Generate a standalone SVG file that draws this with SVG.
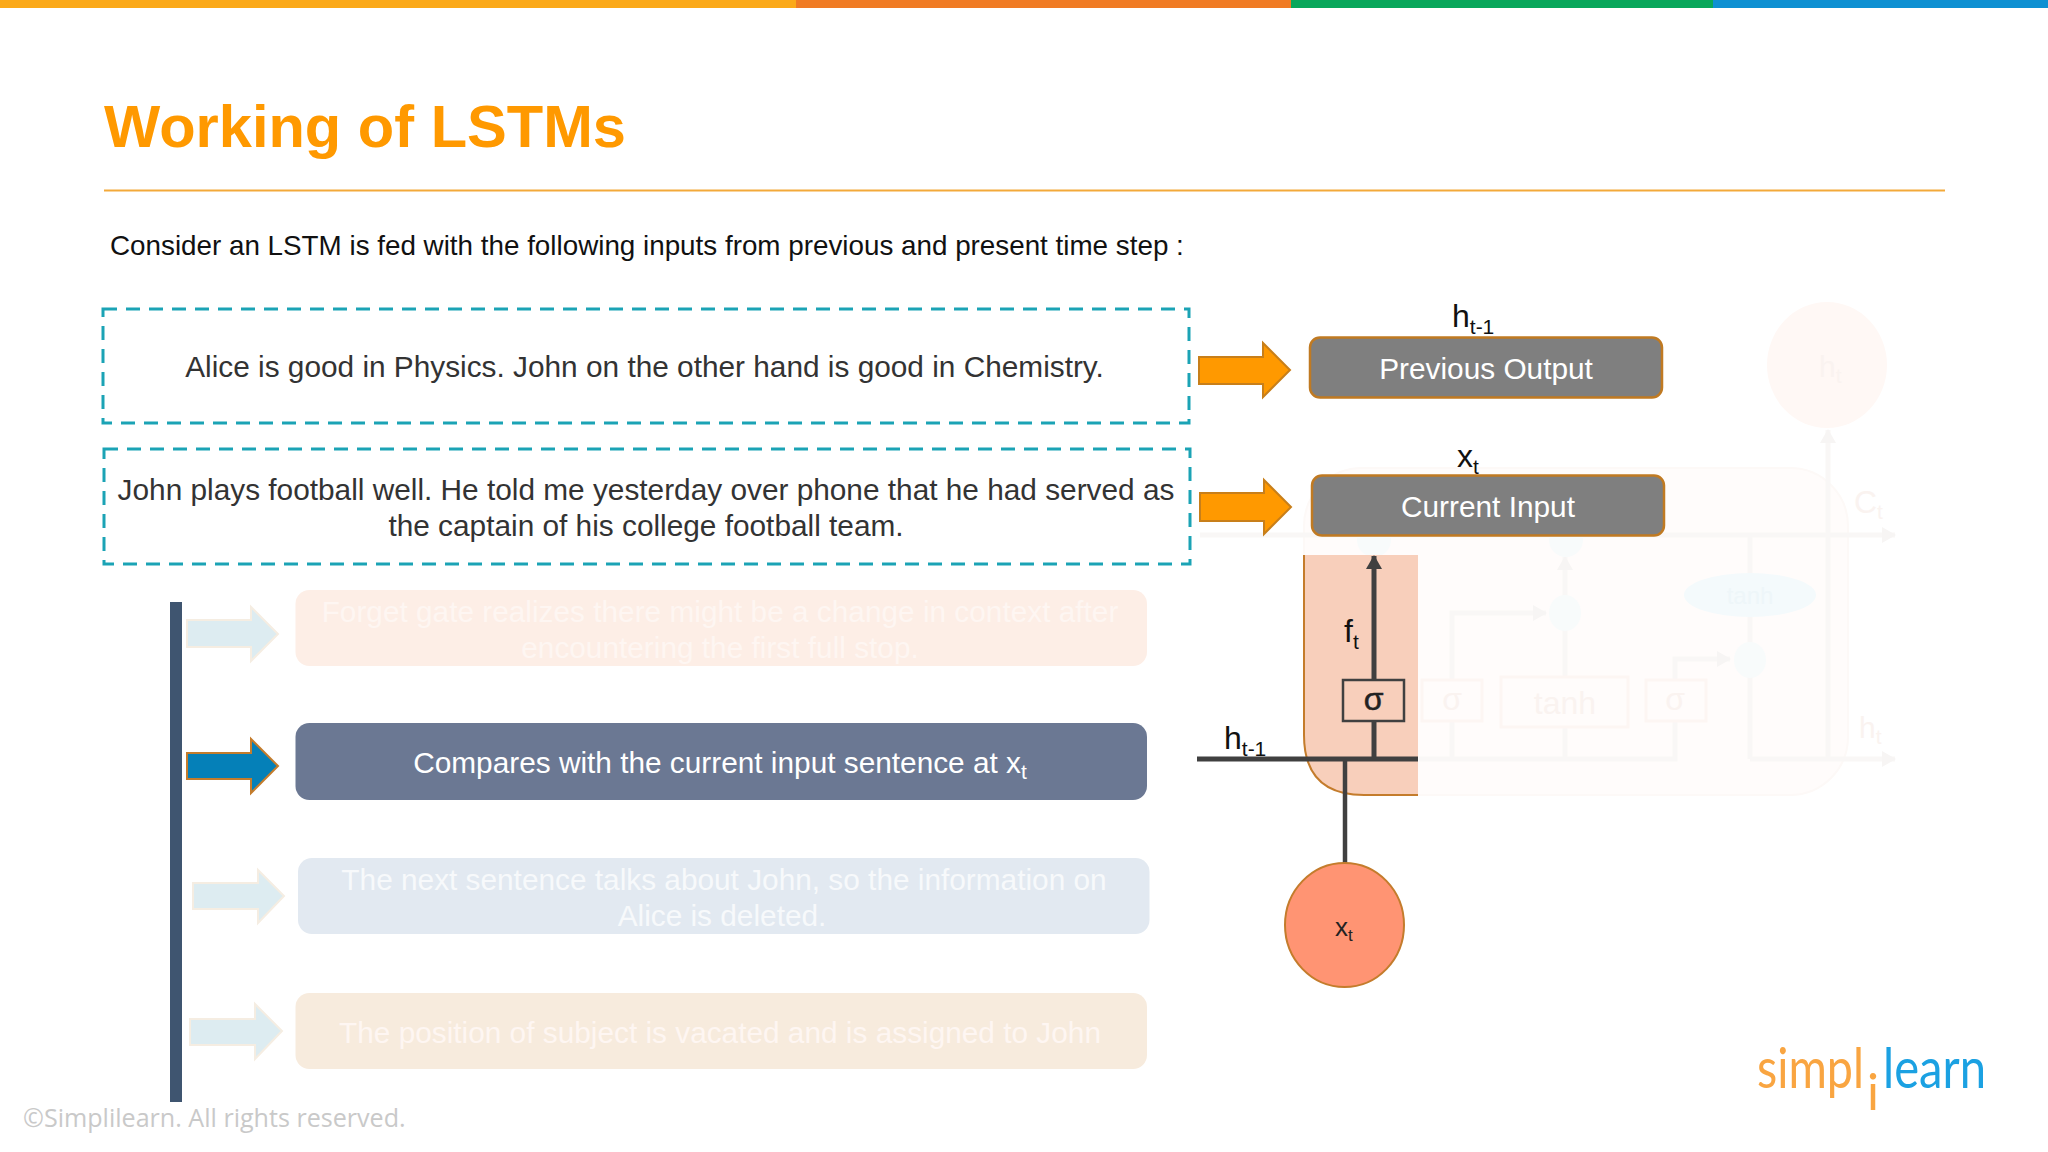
<svg xmlns="http://www.w3.org/2000/svg" width="2048" height="1152" viewBox="0 0 2048 1152">
<defs>
<style>
text{font-family:"Liberation Sans",Arial,sans-serif}
.ctr{text-anchor:middle}
.w{fill:#fff;font-size:29.800px}
.k{fill:#333;font-size:29.800px}
.lab{fill:#111;font-size:32px}
.sub{font-size:21px}
.dash{fill:none;stroke:#1BA3B5;stroke-width:3;stroke-dasharray:14 9}
.grey{fill:#7f7f7f;stroke:#C07A22;stroke-width:2.500}
.orange{fill:#FF9900;stroke:#C87F1A;stroke-width:2}
.faintArrow{fill:#DDECF1;stroke:#F5EDE2;stroke-width:2}
.gl{fill:none;stroke:#F9F7F6;stroke-width:5}
.gb{fill:none;stroke:#FDF6F3;stroke-width:3}
.gc{fill:#F8FBFB}
.gt{fill:#FAF3F0}
.dk{fill:none;stroke:#404040;stroke-width:5}
.ghostText{fill:#FEF6F2;font-size:29.800px}
.logo{font-family:Lato,sans-serif;font-size:56px;font-weight:400}
</style>
<marker id="dkHead" markerUnits="userSpaceOnUse" markerWidth="18" markerHeight="18" refX="13" refY="8" orient="auto"><path d="M0,0L14,8L0,16Z" fill="#404040"/></marker>
<marker id="gHead" markerUnits="userSpaceOnUse" markerWidth="18" markerHeight="18" refX="13" refY="8" orient="auto"><path d="M0,0L14,8L0,16Z" fill="#F7F5F4"/></marker>
</defs>
<rect width="2048" height="1152" fill="#fff"/>
<g id="topbar">
<rect x="0" y="0" width="796" height="8" fill="#FBA919"/>
<rect x="796" y="0" width="495" height="8" fill="#F07B24"/>
<rect x="1291" y="0" width="422" height="8" fill="#09A75B"/>
<rect x="1713" y="0" width="335" height="8" fill="#0E90D2"/>
</g>
<g id="header">
<text x="104" y="147" font-size="59.600" font-weight="bold" fill="#FF9900">Working of LSTMs</text>
<rect x="104" y="189.500" width="1841" height="2" fill="#F3A93A"/>
<text x="110" y="255" font-size="27.800" fill="#111">Consider an LSTM is fed with the following inputs from previous and present time step :</text>
</g>
<g id="ghost-lstm">
<rect x="1304" y="468" width="544" height="327" rx="58" fill="#FFFCFB" stroke="#FDF9F7" stroke-width="2"/>
<ellipse cx="1827" cy="365" rx="60" ry="63" fill="#FFF8F5"/>
<text x="1819" y="377" font-size="30" class="gt">h<tspan class="sub" dy="6">t</tspan></text>
<path class="gl" d="M1200,535H1895" marker-end="url(#gHead)"/>
<path class="gl" d="M1419,759H1675V721M1675,680V659H1730" marker-end="url(#gHead)"/>
<path class="gl" d="M1750,759H1895" marker-end="url(#gHead)"/>
<path class="gl" d="M1452,759V721M1452,680V613H1546" marker-end="url(#gHead)"/>
<path class="gl" d="M1565,759V727M1565,677V630M1565,595V557" marker-end="url(#gHead)"/>
<path class="gl" d="M1750,759V677M1750,642V616M1750,573V535"/>
<path class="gl" d="M1828,759V430" marker-end="url(#gHead)"/>
<circle class="gc" cx="1374" cy="540" r="17"/>
<circle class="gc" cx="1566" cy="540" r="17"/>
<ellipse class="gc" cx="1565" cy="613" rx="16" ry="18"/>
<ellipse class="gc" cx="1750" cy="660" rx="16" ry="18"/>
<ellipse cx="1750" cy="595" rx="66" ry="22" fill="#F4FAFC"/>
<text x="1750" y="604" font-size="24" class="ctr" fill="#EEF6F9">tanh</text>
<rect class="gb" x="1422" y="680" width="60" height="41"/>
<rect class="gb" x="1501" y="677" width="127" height="50"/>
<rect class="gb" x="1646" y="680" width="60" height="41"/>
<text x="1452" y="710" font-size="32" class="ctr gt">σ</text>
<text x="1565" y="714" font-size="32" class="ctr gt">tanh</text>
<text x="1675" y="710" font-size="32" class="ctr gt">σ</text>
<text x="1854" y="513" font-size="32" class="gt">C<tspan class="sub" dy="6">t</tspan></text>
<text x="1859" y="738" font-size="30" class="gt">h<tspan class="sub" dy="6">t</tspan></text>
</g>
<g id="box-sentence-1">
<rect class="dash" x="103" y="309" width="1086" height="114"/>
<text class="k ctr" x="644.500" y="377">Alice is good in Physics. John on the other hand is good in Chemistry.</text>
</g>
<g id="box-sentence-2">
<rect class="dash" x="104" y="449" width="1086" height="115"/>
<text class="k ctr" x="646" y="500">John plays football well. He told me yesterday over phone that he had served as</text>
<text class="k ctr" x="646" y="536">the captain of his college football team.</text>
</g>
<g id="arrow-input-1"><path class="orange" d="M1199,357H1263V343L1290,370L1263,397V384H1199Z"/></g>
<g id="arrow-input-2"><path class="orange" d="M1200,493H1264V480L1291,507L1264,534V521H1200Z"/></g>
<g id="node-previous-output">
<rect class="grey" x="1310" y="337.500" width="352" height="60" rx="10"/>
<text class="w ctr" x="1486" y="379">Previous Output</text>
<text class="lab" x="1452" y="327">h<tspan class="sub" dy="7">t-1</tspan></text>
</g>
<g id="node-current-input">
<text class="lab" x="1457" y="467">x<tspan class="sub" dy="7">t</tspan></text>
<rect class="grey" x="1312" y="475.500" width="352" height="60" rx="10"/>
<text class="w ctr" x="1488" y="517">Current Input</text>
</g>
<g id="forget-gate">
<path d="M1304,555V735Q1304,795 1364,795H1418V555Z" fill="#F8CFBB"/>
<path d="M1304,555V735Q1304,795 1364,795H1418" fill="none" stroke="#C47C2C" stroke-width="2"/>
<rect x="1343" y="680" width="61" height="41" fill="none" stroke="#404040" stroke-width="2.500"/>
<text x="1373.500" y="710" font-size="32" class="ctr" fill="#222" stroke="#222" stroke-width="0.500">σ</text>
<text class="lab" x="1344" y="642">f<tspan class="sub" dy="7">t</tspan></text>
</g>
<g id="connectors">
<path class="dk" d="M1197,759H1418"/>
<path class="dk" d="M1374,759V721"/>
<path class="dk" d="M1374,680V556" marker-end="url(#dkHead)"/>
<path class="dk" d="M1345,759V865" style="stroke-width:4.500"/>
</g>
<g id="label-hidden"><text class="lab" x="1224" y="749">h<tspan class="sub" dy="7">t-1</tspan></text></g>
<g id="node-xt">
<ellipse cx="1344.500" cy="925" rx="59.500" ry="62" fill="#FF9473" stroke="#C47C2C" stroke-width="2"/>
<text x="1335" y="936" font-size="26" fill="#222">x<tspan font-size="17" dy="5">t</tspan></text>
</g>
<g id="timeline"><rect x="170" y="602" width="12" height="500" fill="#3F5570"/></g>
<g id="step-1">
<path class="faintArrow" d="M187,620H251V607L278,634L251,661V647H187Z"/>
<rect x="295.500" y="590" width="851.500" height="76" rx="14" fill="#FDEEE6"/>
<text class="ghostText ctr" x="720" y="622">Forget gate realizes there might be a change in context after</text>
<text class="ghostText ctr" x="720" y="658">encountering the first full stop.</text>
</g>
<g id="step-2">
<path d="M187,753H251V739L278,766L251,793V779H187Z" fill="#0580B8" stroke="#C47C2C" stroke-width="2"/>
<rect x="295.500" y="723" width="851.500" height="77" rx="14" fill="#6B7893"/>
<text class="w ctr" x="720" y="773">Compares with the current input sentence at x<tspan class="sub" dy="6">t</tspan></text>
</g>
<g id="step-3">
<path class="faintArrow" d="M193,883H258V870L284,896L258,923V909H193Z"/>
<rect x="298" y="858" width="851.500" height="76" rx="14" fill="#E2E9F1"/>
<text class="ghostText ctr" x="724" y="890" style="fill:#F7F9FB">The next sentence talks about John, so the information on</text>
<text class="ghostText ctr" x="722" y="926" style="fill:#F7F9FB">Alice is deleted.</text>
</g>
<g id="step-4">
<path class="faintArrow" d="M190,1019H255V1004L282,1031L255,1059V1045H190Z"/>
<rect x="295.500" y="993" width="851.500" height="76" rx="14" fill="#F7EBDD"/>
<text class="ghostText ctr" x="720" y="1043">The position of subject is vacated and is assigned to John</text>
</g>
<g id="footer">
<text x="23" y="1127" font-size="25.100" fill="#C9C9C9" style="font-family:'Open Sans',sans-serif">©Simplilearn. All rights reserved.</text>
</g>
<g id="logo">
<text class="logo" x="1757" y="1088" fill="#F9A541" textLength="107" lengthAdjust="spacingAndGlyphs">simpl</text>
<text class="logo" x="1867" y="1110" fill="#F9A541" style="font-size:50px">i</text>
<text class="logo" x="1883" y="1088" fill="#1BA1E2" textLength="103" lengthAdjust="spacingAndGlyphs">learn</text>
</g>
</svg>
